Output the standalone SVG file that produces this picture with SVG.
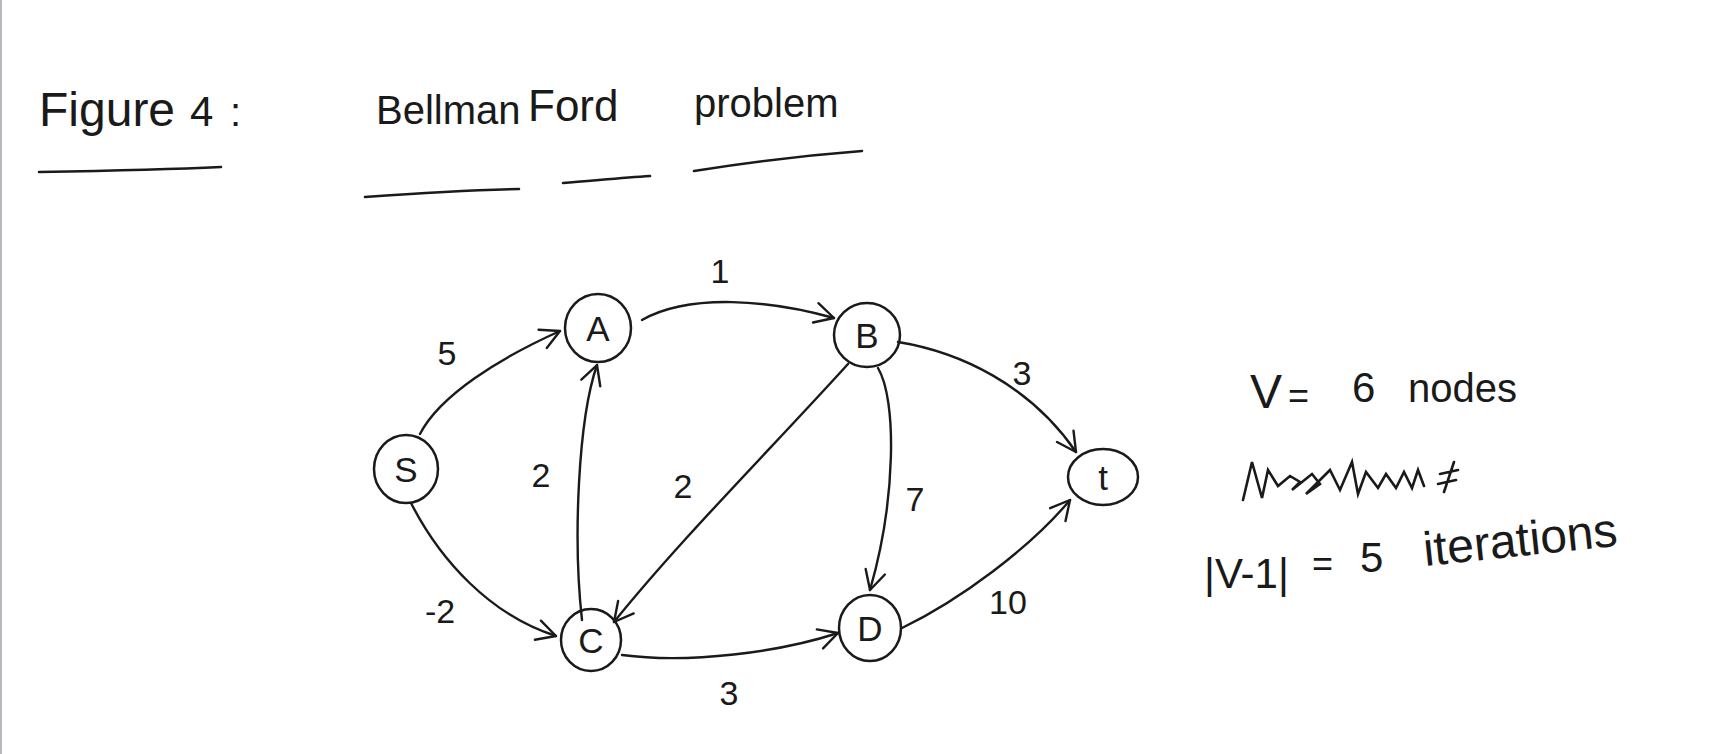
<svg xmlns="http://www.w3.org/2000/svg" width="1732" height="754" viewBox="0 0 1732 754">
<defs>
<style>
.t{font-family:"Liberation Sans",Arial,sans-serif;fill:#1a1a1a}
.node ellipse{fill:none;stroke:#1a1a1a;stroke-width:2.5}
.node text{font-family:"Liberation Sans",Arial,sans-serif;font-size:35px;fill:#1a1a1a;text-anchor:middle;dominant-baseline:central}
.edge{fill:none;stroke:#1a1a1a;stroke-width:2.4;stroke-linecap:round}
.lbl{font-family:"Liberation Sans",Arial,sans-serif;font-size:34px;fill:#1a1a1a;text-anchor:middle;dominant-baseline:central}
.ul{fill:none;stroke:#1a1a1a;stroke-width:2.6;stroke-linecap:round}
</style>
<marker id="arr" viewBox="-22 -14 26 28" refX="0" refY="0" markerWidth="26" markerHeight="28" markerUnits="userSpaceOnUse" orient="auto">
<path d="M-19,-10 L0,0 L-19,10" fill="none" stroke="#1a1a1a" stroke-width="2.4" stroke-linecap="round" stroke-linejoin="round"/>
</marker>
</defs>
<rect x="0" y="0" width="1732" height="754" fill="#ffffff"/>
<rect x="0" y="0" width="2" height="754" fill="#b8b8c0"/>

<g id="title">
<text class="t" x="39" y="126" font-size="48">Figure</text>
<text class="t" x="190" y="126" font-size="42">4</text>
<text class="t" x="230" y="126" font-size="40">:</text>
<text class="t" x="376" y="124" font-size="40">Bellman</text>
<text class="t" x="528" y="121" font-size="44">Ford</text>
<text class="t" x="694" y="117" font-size="40">problem</text>
<path class="ul" d="M39,172 C100,171 160,170 221,167"/>
<path class="ul" d="M365,197 C420,193 470,190 519,189"/>
<path class="ul" d="M563,183 C590,181 620,178 650,176"/>
<path class="ul" d="M694,171 C750,162 810,155 862,151"/>
</g>

<g id="edges">
<path class="edge" marker-end="url(#arr)" d="M420,434 C440,395 500,358 560,331"/>
<path class="edge" marker-end="url(#arr)" d="M411,503 C440,560 490,615 556,636"/>
<path class="edge" marker-end="url(#arr)" d="M642,320 C690,293 770,300 834,318"/>
<path class="edge" marker-end="url(#arr)" d="M582,620 C573,540 578,420 597,365"/>
<path class="edge" marker-end="url(#arr)" d="M848,364 C770,450 680,540 614,622"/>
<path class="edge" marker-end="url(#arr)" d="M878,368 C897,400 896,500 870,590"/>
<path class="edge" marker-end="url(#arr)" d="M898,342 C960,352 1030,385 1076,452"/>
<path class="edge" marker-end="url(#arr)" d="M622,655 C690,664 780,652 838,633"/>
<path class="edge" marker-end="url(#arr)" d="M902,628 C960,600 1030,548 1070,500"/>
</g>

<g id="edge-labels">
<text class="lbl" x="447" y="353">5</text>
<text class="lbl" x="720" y="271">1</text>
<text class="lbl" x="1022" y="373">3</text>
<text class="lbl" x="541" y="475">2</text>
<text class="lbl" x="683" y="486">2</text>
<text class="lbl" x="915" y="499">7</text>
<text class="lbl" x="440" y="611">-2</text>
<text class="lbl" x="729" y="693">3</text>
<text class="lbl" x="1008" y="602">10</text>
</g>

<g id="node-S" class="node"><ellipse cx="406" cy="469" rx="32" ry="34"/><text x="406" y="469">S</text></g>
<g id="node-A" class="node"><ellipse cx="598" cy="328" rx="33" ry="34"/><text x="598" y="328">A</text></g>
<g id="node-B" class="node"><ellipse cx="867" cy="335" rx="33" ry="32"/><text x="867" y="335">B</text></g>
<g id="node-C" class="node"><ellipse cx="591" cy="640" rx="30" ry="31"/><text x="591" y="640">C</text></g>
<g id="node-D" class="node"><ellipse cx="870" cy="628" rx="31" ry="33"/><text x="870" y="628">D</text></g>
<g id="node-t" class="node"><ellipse cx="1103" cy="477" rx="35" ry="28"/><text x="1103" y="477">t</text></g>

<g id="notes">
<text class="t" x="1250" y="408" font-size="48">V</text>
<text class="t" x="1288" y="408" font-size="36">=</text>
<text class="t" x="1352" y="402" font-size="42">6</text>
<text class="t" x="1408" y="402" font-size="40">nodes</text>
<path class="ul" stroke-width="2.2" d="M1243,500 L1252,462 L1262,498 L1268,470 L1278,486 L1290,476 L1300,482 L1292,490 L1312,474 L1320,484 L1306,494 L1330,470 L1340,490 L1352,462 L1358,494 L1366,472 L1378,488 L1386,474 L1396,488 L1404,472 L1412,488 L1418,470 L1424,486 M1440,474 L1458,470 M1438,484 L1456,480 M1444,492 L1454,462"/>
<text class="t" x="1204" y="588" font-size="42">|V-1|</text>
<text class="t" x="1312" y="576" font-size="36">=</text>
<text class="t" x="1360" y="572" font-size="42">5</text>
<text class="t" x="1425" y="566" font-size="48" transform="rotate(-6 1425 566)">iterations</text>
</g>
</svg>
